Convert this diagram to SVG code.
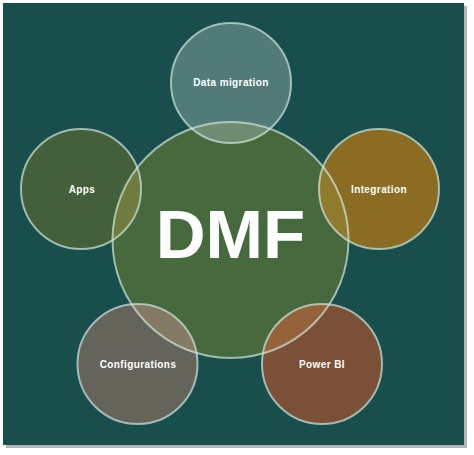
<svg xmlns="http://www.w3.org/2000/svg" width="474" height="455" viewBox="0 0 474 455">
<style>
.ring{stroke:#cfe6e0;stroke-opacity:0.7;stroke-width:2}
.lbl{font-family:"Liberation Sans",Arial,sans-serif;font-weight:bold;font-size:10px;letter-spacing:0.4px;fill:#ffffff;text-anchor:middle}
.big{font-family:"Liberation Sans",Arial,sans-serif;font-weight:bold;font-size:69px;fill:#ffffff;text-anchor:middle}
</style>
<defs>
<clipPath id="cc"><circle cx="230.5" cy="240" r="118"/></clipPath>
</defs>
<rect x="0" y="0" width="474" height="455" fill="#ffffff"/>
<rect x="6" y="6" width="461" height="442" fill="#b5b5b5"/>
<rect x="3" y="3" width="461" height="442" fill="#184e4b"/>
<g id="center">
<circle cx="230.5" cy="240" r="118" fill="#466a3e"/>
</g>
<g id="data-migration">
<circle cx="231" cy="83" r="60" fill="#507b77"/>
<circle cx="231" cy="83" r="60" fill="#6f8c70" clip-path="url(#cc)"/>
<circle cx="231" cy="83" r="60" fill="none" class="ring"/>
<text x="231" y="86" class="lbl">Data migration</text>
</g>
<g id="apps">
<circle cx="81" cy="189" r="60" fill="#44603a"/>
<circle cx="81" cy="189" r="60" fill="#6e7c3d" clip-path="url(#cc)"/>
<circle cx="81" cy="189" r="60" fill="none" class="ring"/>
<text x="82" y="193" class="lbl">Apps</text>
</g>
<g id="integration">
<circle cx="379" cy="189" r="60" fill="#8a6d22"/>
<circle cx="379" cy="189" r="60" fill="#907a2c" clip-path="url(#cc)"/>
<circle cx="379" cy="189" r="60" fill="none" class="ring"/>
<text x="379" y="193" class="lbl">Integration</text>
</g>
<g id="configurations">
<circle cx="137.5" cy="364" r="60" fill="#65645a"/>
<circle cx="137.5" cy="364" r="60" fill="#857a63" clip-path="url(#cc)"/>
<circle cx="137.5" cy="364" r="60" fill="none" class="ring"/>
<text x="138" y="368" class="lbl">Configurations</text>
</g>
<g id="power-bi">
<circle cx="322" cy="364" r="60" fill="#7a5036"/>
<circle cx="322" cy="364" r="60" fill="#94633a" clip-path="url(#cc)"/>
<circle cx="322" cy="364" r="60" fill="none" class="ring"/>
<text x="322" y="368" class="lbl">Power BI</text>
</g>
<g id="connectors"></g>
<g id="center-ring">
<circle cx="230.5" cy="240" r="118" fill="none" class="ring" stroke-opacity="0.5"/>
<text x="230.5" y="258" class="big">DMF</text>
</g>
</svg>
